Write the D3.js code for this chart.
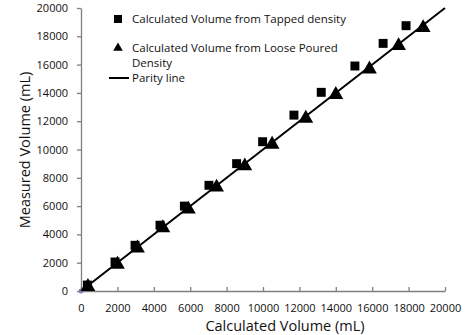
<!DOCTYPE html>
<html><head><meta charset="utf-8">
<script src="https://cdn.jsdelivr.net/npm/d3@7"></script>
<style>body{margin:0;background:#fff}svg{display:block}text{font-family:"Open Sans",sans-serif;fill:#111}</style>
</head><body><svg id="c" width="474" height="335"></svg>
<script>
const tappedX = [350, 1870, 2970, 4340, 5680, 7030, 8550, 9980, 11700, 13200, 15050, 16600, 17860];
const tappedY = [420, 2050, 3230, 4650, 6000, 7470, 9000, 10550, 12430, 14040, 15900, 17500, 18750];
const looseX = [380, 2000, 3100, 4500, 5900, 7450, 9000, 10500, 12350, 14000, 15850, 17450, 18800];
const looseY = [380, 1950, 3100, 4530, 5850, 7400, 8900, 10430, 12270, 13950, 15750, 17400, 18680];
const parityX = [0, 20000];
const parityY = [0, 20000];
const originX = [0];
const originY = [0];
const xTicks = [0, 2000, 4000, 6000, 8000, 10000, 12000, 14000, 16000, 18000, 20000];
const yTicks = [0, 2000, 4000, 6000, 8000, 10000, 12000, 14000, 16000, 18000, 20000];
const legendLabels = ["Calculated Volume from Tapped density", "Calculated Volume from Loose Poured", "Density", "Parity line"];

const svg = d3.select("#c");
const L = 81, R = 445, T = 8, B = 291;
const x = d3.scaleLinear().domain([0, 20000]).range([L, R]);
const y = d3.scaleLinear().domain([0, 20000]).range([B, T]);

const ax = svg.append("g").attr("transform", `translate(0,${B})`)
  .call(d3.axisBottom(x).tickValues(xTicks).tickFormat(d3.format("d")).tickSizeInner(-4).tickSizeOuter(0).tickPadding(13));
const ay = svg.append("g").attr("transform", `translate(${L},0)`)
  .call(d3.axisLeft(y).tickValues(yTicks).tickFormat(d3.format("d")).tickSizeInner(4).tickSizeOuter(0).tickPadding(9));
[ax, ay].forEach(g => {
  g.select(".domain").attr("stroke", "#7f7f7f").attr("stroke-width", 1.3);
  g.selectAll(".tick line").attr("stroke", "#7f7f7f").attr("stroke-width", 1.3);
  g.selectAll(".tick text").attr("font-size", 11).attr("fill", "#111").attr("font-family", "Open Sans");
});

// parity line
const line = d3.line().x(d => x(d[0])).y(d => y(d[1]));
svg.append("path").datum(d3.zip(parityX, parityY)).attr("d", line)
  .attr("stroke", "#000").attr("stroke-width", 2).attr("fill", "none");

// origin point
svg.selectAll(".o").data(d3.zip(originX, originY)).join("circle")
  .attr("cx", d => x(d[0])).attr("cy", d => y(d[1])).attr("r", 2.5).attr("fill", "#8a7ab0");

const sq = d3.symbol().type(d3.symbolSquare).size(80);
const tri = d3.symbol().type(d3.symbolTriangle).size(95);
svg.selectAll(".t").data(d3.zip(tappedX, tappedY)).join("path")
  .attr("d", sq).attr("transform", d => `translate(${x(d[0])},${y(d[1])})`).attr("fill", "#000");
svg.selectAll(".l").data(d3.zip(looseX, looseY)).join("path")
  .attr("d", tri).attr("transform", d => `translate(${x(d[0])},${y(d[1])+1})`).attr("fill", "#000");

// legend
const lg = svg.append("g");
lg.append("path").attr("d", d3.symbol().type(d3.symbolSquare).size(64)).attr("transform", "translate(118,19)").attr("fill", "#000");
lg.append("path").attr("d", d3.symbol().type(d3.symbolTriangle).size(40)).attr("transform", "translate(118,48)").attr("fill", "#000");
lg.append("line").attr("x1", 109).attr("x2", 129).attr("y1", 78).attr("y2", 78).attr("stroke", "#000").attr("stroke-width", 2);
const ly = [23, 52, 67, 82];
legendLabels.forEach((t, i) => lg.append("text").attr("x", 132).attr("y", ly[i]).attr("font-size", 11.5).text(t));

// axis titles
svg.append("text").attr("x", 285).attr("y", 331).attr("text-anchor", "middle").attr("font-size", 14.5).text("Calculated Volume (mL)");
svg.append("text").attr("transform", "translate(30,150) rotate(-90)").attr("text-anchor", "middle").attr("font-size", 14.5).text("Measured Volume (mL)");
</script></body></html>
